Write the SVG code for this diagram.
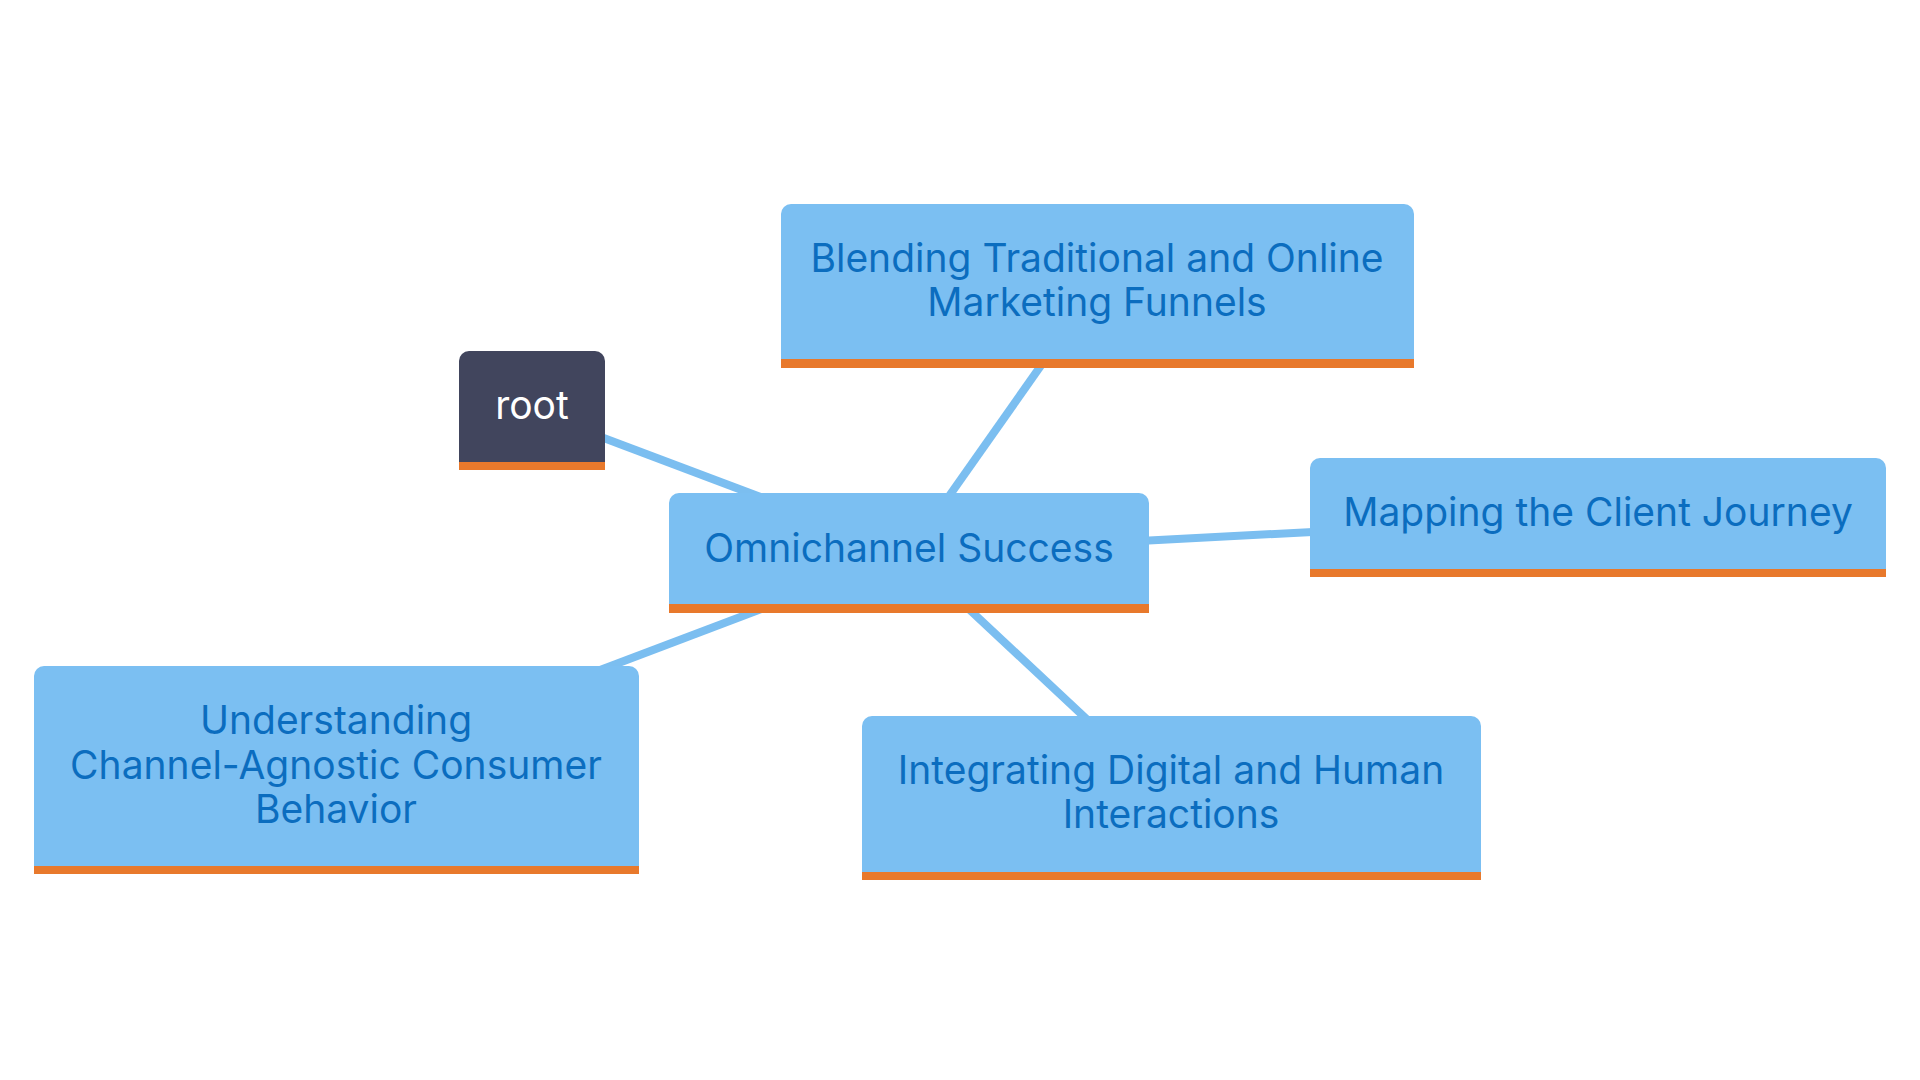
<svg xmlns="http://www.w3.org/2000/svg" width="1920" height="1080" viewBox="0 0 1920 1080">
<style>
.edge{stroke:#7bbef0;stroke-width:8;fill:none;stroke-linecap:butt}
.box{fill:#7bbff2}
.rootbox{fill:#41455d}
.band{fill:#e8792c}
.lbl{font-family:Inter,"Open Sans","Liberation Sans",sans-serif;font-size:39px;fill:#0b6dbf;text-anchor:middle}
.rootlbl{font-family:Inter,"Open Sans","Liberation Sans",sans-serif;font-size:39px;fill:#ffffff;text-anchor:middle}
</style>
<rect width="1920" height="1080" fill="#ffffff"/>
<g id="connectors">
<line class="edge" x1="532" y1="411" x2="909" y2="553"/>
<line class="edge" x1="909" y1="553" x2="1097" y2="286"/>
<line class="edge" x1="909" y1="553" x2="1598" y2="517"/>
<line class="edge" x1="909" y1="553" x2="336" y2="770"/>
<line class="edge" x1="909" y1="553" x2="1171" y2="798"/>
</g>
<g id="root">
<path class="rootbox" d="M459,470 V361 a10,10 0 0 1 10,-10 H595 a10,10 0 0 1 10,10 V470 Z"/>
<rect class="band" x="459" y="462" width="146" height="8"/>
<text class="rootlbl" x="532" y="419">root</text>
</g>
<g id="omnichannel">
<path class="box" d="M669,613 V503 a10,10 0 0 1 10,-10 H1139 a10,10 0 0 1 10,10 V613 Z"/>
<rect class="band" x="669" y="604" width="480" height="9"/>
<text class="lbl" x="909" y="562">Omnichannel Success</text>
</g>
<g id="blending">
<path class="box" d="M781,368 V214 a10,10 0 0 1 10,-10 H1404 a10,10 0 0 1 10,10 V368 Z"/>
<rect class="band" x="781" y="359" width="633" height="9"/>
<text class="lbl" x="1097" y="272">Blending Traditional and Online</text>
<text class="lbl" x="1097" y="316">Marketing Funnels</text>
</g>
<g id="mapping">
<path class="box" d="M1310,577 V468 a10,10 0 0 1 10,-10 H1876 a10,10 0 0 1 10,10 V577 Z"/>
<rect class="band" x="1310" y="569" width="576" height="8"/>
<text class="lbl" x="1598" y="526">Mapping the Client Journey</text>
</g>
<g id="understanding">
<path class="box" d="M34,874 V676 a10,10 0 0 1 10,-10 H629 a10,10 0 0 1 10,10 V874 Z"/>
<rect class="band" x="34" y="866" width="605" height="8"/>
<text class="lbl" x="336" y="734">Understanding</text>
<text class="lbl" x="336" y="779">Channel-Agnostic Consumer</text>
<text class="lbl" x="336" y="823">Behavior</text>
</g>
<g id="integrating">
<path class="box" d="M862,880 V726 a10,10 0 0 1 10,-10 H1471 a10,10 0 0 1 10,10 V880 Z"/>
<rect class="band" x="862" y="872" width="619" height="8"/>
<text class="lbl" x="1171" y="784">Integrating Digital and Human</text>
<text class="lbl" x="1171" y="828">Interactions</text>
</g>
</svg>
